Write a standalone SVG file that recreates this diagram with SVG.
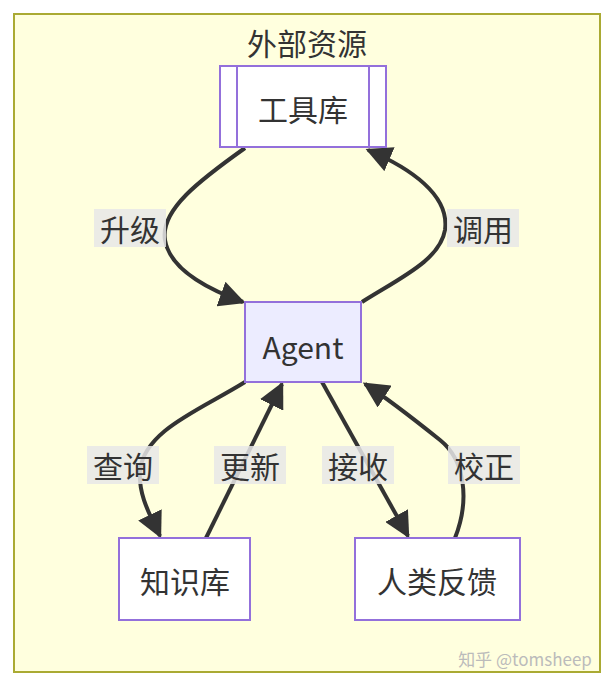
<svg xmlns="http://www.w3.org/2000/svg" width="614" height="686" viewBox="0 0 614 686">
<style>
text{font-family:"Noto Sans CJK SC","Noto Sans",sans-serif;fill:#333;font-size:30px;text-anchor:middle;dominant-baseline:central}
.n{fill:#fff;stroke:#9370DB;stroke-width:2}
.e{fill:none;stroke:#333;stroke-width:4}
.lb{fill:#e8e8e8;opacity:0.85}
</style>
<defs><marker id="a" viewBox="0 0 10 10" refX="9" refY="5" markerWidth="6.5" markerHeight="6.5" orient="auto" markerUnits="strokeWidth"><path d="M0,0L10,5L0,10z" fill="#333"/></marker></defs>
<rect width="614" height="686" fill="#fff"/>
<g id="sub"><rect x="14" y="14" width="586" height="658" fill="#ffffde" stroke="#aaaa33" stroke-width="2"/><text x="307" y="42">外部资源</text></g>
<g id="edges">
<path class="e" d="M245,148C200,180 160,210 165,240C170,270 210,290 243,302" marker-end="url(#a)"/>
<path class="e" d="M362,302C400,278 440,260 445,230C450,195 410,168 368,150" marker-end="url(#a)"/>
<path class="e" d="M245,382C200,410 145,430 140,470C138,495 150,515 160,536" marker-end="url(#a)"/>
<path class="e" d="M206,538L282,384" marker-end="url(#a)"/>
<path class="e" d="M322,382L408,536" marker-end="url(#a)"/>
<path class="e" d="M455,538C470,500 465,460 440,440C415,420 390,400 365,384" marker-end="url(#a)"/>
<rect class="lb" x="94" y="209" width="72" height="38"/><text x="130" y="228">升级</text>
<rect class="lb" x="447" y="209" width="72" height="38"/><text x="483" y="228">调用</text>
<rect class="lb" x="87" y="446" width="72" height="38"/><text x="123" y="465">查询</text>
<rect class="lb" x="214" y="446" width="72" height="38"/><text x="250" y="465">更新</text>
<rect class="lb" x="322" y="446" width="72" height="38"/><text x="358" y="465">接收</text>
<rect class="lb" x="448" y="446" width="72" height="38"/><text x="484" y="465">校正</text>
</g>
<g id="tool"><rect class="n" x="220" y="66" width="166" height="81"/><line x1="237" y1="66" x2="237" y2="147" stroke="#9370DB" stroke-width="2"/><line x1="369" y1="66" x2="369" y2="147" stroke="#9370DB" stroke-width="2"/><text x="303" y="108">工具库</text></g>
<g id="agent"><rect class="n" x="245" y="302" width="116" height="80" style="fill:#ECECFF"/><text x="303" y="346">Agent</text></g>
<g id="kb"><rect class="n" x="119" y="538" width="131" height="82"/><text x="185" y="580">知识库</text></g>
<g id="hf"><rect class="n" x="355" y="538" width="165" height="82"/><text x="437" y="580">人类反馈</text></g>
<text x="525" y="658" style="font-size:17px;fill:#bbb">知乎 @tomsheep</text>
</svg>
